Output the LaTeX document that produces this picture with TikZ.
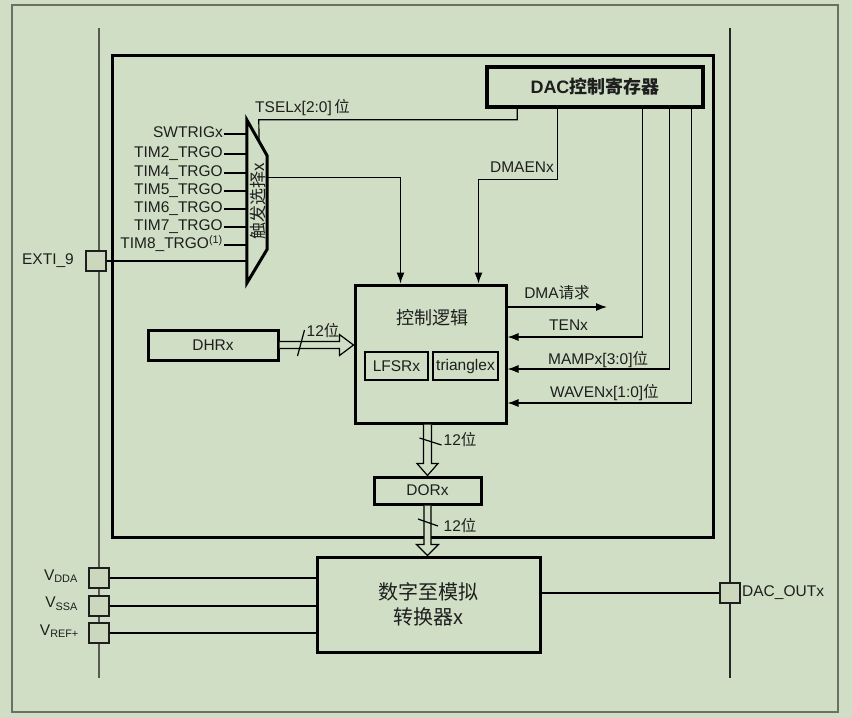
\documentclass[tikz,border=0pt]{standalone}
\usepackage{fontspec}
\setmainfont{Liberation Sans}
\newfontfamily\zhfont{Noto Sans CJK SC}
\usetikzlibrary{arrows.meta,calc}

\definecolor{panel}{RGB}{207,222,196}
\definecolor{frame}{RGB}{107,112,100}
\definecolor{ink}{RGB}{30,30,30}
\definecolor{pinfill}{RGB}{203,216,190}

\tikzset{
  box/.style={draw=black, line width=3pt, rectangle, inner sep=0pt},
  sig/.style={draw=black, line width=1.2pt},
  arr/.style={sig, -{Latex[length=11pt,width=8pt]}},
  bus/.style={draw=black, line width=1.2pt, fill=panel, line join=miter},
  pinbox/.style={draw=ink, fill=pinfill, line width=1.2pt, minimum size=20pt, inner sep=0pt},
  lbl/.style={font=\fontsize{15.5}{17}\selectfont, text=ink, inner sep=1pt},
  zh/.style={font=\zhfont\fontsize{#1}{#1}\selectfont, text=ink, inner sep=1pt},
}

\begin{document}
\begin{tikzpicture}[x=1pt, y=-1pt]

    \fill[panel] (0,0) rectangle (852,718);
    \useasboundingbox (0,0) rectangle (852,718);

    % frame and chip edges
    \draw[frame, line width=1.5pt] (12,5) rectangle (838,712);
    \draw[frame!80!black, line width=1.5pt] (99,28) -- (99,678);
    \draw[black!85, line width=1.5pt] (730,28) -- (730,678);
    \draw[line width=3pt] (112,55) rectangle (713,537);

    % blocks
    \node[box, line width=3.5pt, minimum width=216pt, minimum height=40pt,
          font=\bfseries\fontsize{18}{18}\selectfont, text=ink] (reg) at (595,87) {DAC{\zhfont 控制寄存器}};
    \node[box, minimum width=151pt, minimum height=138pt] (ctrl) at (430.5,354) {};
    \node[zh=18] (ctrltitle) at (432,318) {控制逻辑};
    \node[box, line width=2.5pt, minimum width=63pt, minimum height=28pt, lbl] (lfsr) at (396.5,366) {LFSRx};
    \node[box, line width=2.5pt, minimum width=65pt, minimum height=28pt, lbl] (tri) at (465.5,366) {trianglex};
    \node[box, minimum width=130pt, minimum height=30pt, lbl] (dhr) at (213,345) {DHRx};
    \node[box, minimum width=107pt, minimum height=27pt, lbl] (dor) at (427.5,490.5) {DORx};
    \node[box, minimum width=223pt, minimum height=95pt, align=center,
          font=\zhfont\fontsize{20}{25}\selectfont, text=ink] (dac) at (428.5,604.5) {数字至模拟\\转换器x};

    % trigger selector
    \node[minimum width=20pt, minimum height=163pt, inner sep=0pt] (mux) at (257,201.5) {};
    \coordinate (mtr) at ($(mux.north east)+(0,36)$);
    \coordinate (mbr) at ($(mux.south east)+(0,-34)$);
    \draw[line width=3pt, line join=miter] (mux.north west) -- (mtr) -- (mbr) -- (mux.south west) -- cycle;
    \node[zh=17, rotate=90] (muxlbl) at (258,201) {触发选择x};

    \foreach \name/\txt/\y in {sw/SWTRIGx/134, t2/TIM2\_TRGO/154, t4/TIM4\_TRGO/173,
                               t5/TIM5\_TRGO/191, t6/TIM6\_TRGO/209, t7/TIM7\_TRGO/227,
                               t8/TIM8\_TRGO\textsuperscript{(1)}/245}
    {
        \node[lbl, anchor=east, text height=10.5pt, text depth=3pt] (\name) at (224,\y) {\txt};
        \draw[sig] (\name.east) -- (\name.east -| mux.west);
    }

    % pins
    \node[pinbox] (exti) at (96,261) {};
    \node[pinbox] (vdda) at (99,578) {};
    \node[pinbox] (vssa) at (99,606) {};
    \node[pinbox] (vref) at (99,633) {};
    \node[pinbox] (dacout) at (730,593) {};

    \node[lbl, anchor=east] (extilbl) at (75,261) {EXTI\_9};
    \node[lbl, anchor=east] (vddalbl) at (79,576) {V\textsubscript{DDA}};
    \node[lbl, anchor=east] (vssalbl) at (79,604) {V\textsubscript{SSA}};
    \node[lbl, anchor=east] (vreflbl) at (80,631) {V\textsubscript{REF+}};
    \node[lbl, anchor=west] (outlbl) at (741,593) {DAC\_OUTx};

    \draw[sig] (exti.east) -- (exti -| mux.west);
    \draw[sig] (vdda.east) -- (vdda -| dac.west);
    \draw[sig] (vssa.east) -- (vssa -| dac.west);
    \draw[sig] (vref.east) -- (vref -| dac.west);
    \draw[sig] (dacout -| dac.east) -- (dacout.west);

    % control signals
    \coordinate (tselend) at ($(mux.north west)!0.6!(mtr)$);
    \draw[sig] ($(reg.south west)+(32,0)$) |- ($(mux.north west)+(12,0)$) -- (tselend);
    \node[lbl, anchor=west] (tsellbl) at (254,108) {TSELx[2:0]\,{\zhfont 位}};

    \draw[arr] ($(mux.north east)+(0,58)$) -| ($(ctrl.north west)+(47,0)$);
    \draw[arr] ($(reg.south west)+(72,0)$) -- ++(0,71) -| ($(ctrl.north west)+(125,0)$);
    \node[lbl, anchor=east] (dmaenlbl) at (555,167) {DMAENx};

    \coordinate (dmareq) at (607,307);
    \draw[arr] (dmareq -| ctrl.east) -- (dmareq);
    \node[lbl] (dmalbl) at (557,293) {DMA{\zhfont 请求}};

    \draw[arr] ($(reg.south west)+(157,0)$) |- ($(ctrl.east)+(0,-17)$);
    \draw[arr] ($(reg.south west)+(184,0)$) |- ($(ctrl.east)+(0,15)$);
    \draw[arr] ($(reg.south west)+(206,0)$) |- ($(ctrl.east)+(0,49)$);
    \node[lbl, anchor=west] (tenlbl) at (548,325) {TENx};
    \node[lbl, anchor=west] (mamplbl) at (547,360) {MAMPx[3:0]{\zhfont 位}};
    \node[lbl, anchor=west] (wavelbl) at (549,393) {WAVENx[1:0]{\zhfont 位}};

    % data buses
    \coordinate (dhrtip) at (dhr.east -| ctrl.west);
    \draw[bus] ($(dhr.east)+(0,-3.5)$) -- ($(dhrtip)+(-14,-3.5)$) -- ($(dhrtip)+(-14,-10.5)$) -- (dhrtip)
               -- ($(dhrtip)+(-14,10.5)$) -- ($(dhrtip)+(-14,3.5)$) -- ($(dhr.east)+(0,3.5)$);
    \draw[sig] ($(dhr.east)+(18,11)$) -- ($(dhr.east)+(25,-15)$);
    \node[lbl] (dhrbits) at (323,331) {12{\zhfont 位}};

    \coordinate (bus1s) at (dor.north |- ctrl.south);
    \draw[bus] ($(bus1s)+(-4,0)$) -- ($(dor.north)+(-4,-12)$) -- ($(dor.north)+(-10.5,-12)$) -- (dor.north)
               -- ($(dor.north)+(10.5,-12)$) -- ($(dor.north)+(4,-12)$) -- ($(bus1s)+(4,0)$);
    \draw[sig] ($(bus1s)+(-8,13.5)$) -- ($(bus1s)+(14,20.5)$);
    \node[lbl] (ctrlbits) at (460,440) {12{\zhfont 位}};

    \coordinate (bus2e) at (dor.south |- dac.north);
    \draw[bus] ($(dor.south)+(-3.5,0)$) -- ($(bus2e)+(-3.5,-11)$) -- ($(bus2e)+(-11,-11)$) -- (bus2e)
               -- ($(bus2e)+(11,-11)$) -- ($(bus2e)+(3.5,-11)$) -- ($(dor.south)+(3.5,0)$);
    \draw[sig] ($(dor.south)+(-9.5,13.5)$) -- ($(dor.south)+(10.5,20.5)$);
    \node[lbl] (dorbits) at (460,526) {12{\zhfont 位}};

\end{tikzpicture}
\end{document}
